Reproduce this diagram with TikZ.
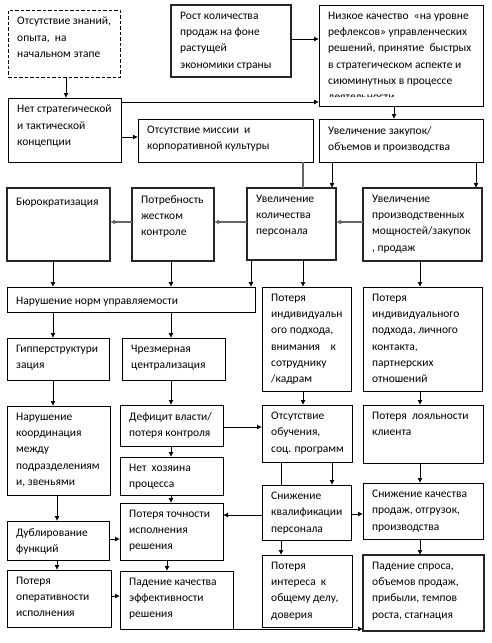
\documentclass[tikz,border=0pt]{standalone}
\usepackage{fontspec}
\setmainfont{Carlito}
\usetikzlibrary{arrows.meta}
\newcommand\mybox[7][]{%
  \node[boxs,#1,minimum width={#5-#3},minimum height={#6-#4}] (#2) at (#3,#4) {};
  \node[txt] (#2-t) at ({#3+9},{#4+7}) {#7};
}
\begin{document}
\begin{tikzpicture}[x=1pt,y=-1pt,
  boxs/.style={draw=black,line width=0.9pt,anchor=north west,inner sep=0pt,outer sep=0pt},
  thickbox/.style={draw=black!85,line width=2.2pt},
  dashbox/.style={dash pattern=on 3.5pt off 2pt},
  txt/.style={anchor=north west,align=left,inner sep=0pt,font=\fontsize{11.5}{16.2}\selectfont,
    execute at begin node={\rule{0pt}{10pt}}},
  arr/.style={line width=0.9pt,-{Latex[length=5pt,width=5pt]}},
  garr/.style={draw=black!60,line width=1.3pt,-{Latex[length=5pt,width=5pt]}},
  gline/.style={draw=black!60,line width=1.3pt},
  pline/.style={line width=0.9pt}]
\useasboundingbox[fill=white] (0,0) rectangle (491,643);

\mybox[dashbox]{dash}{8}{10}{120}{77}{Отсутствие знаний,\\опыта,~ на\\начальном этапе}
\mybox[thickbox]{rost}{171}{5}{291}{77}{Рост количества\\продаж на фоне\\растущей\\экономики страны}
\node[boxs,minimum width=164,minimum height=101] (nizk) at (319,5) {};
\begin{scope}
\clip (319,5) rectangle (483,96.5);
\node[txt] (nizk-t) at (328,12) {Низкое качество~ «на уровне\\рефлексов» управленческих\\решений, принятие~ быстрых\\в стратегическом аспекте и\\сиюминутных в процессе\\деятельности};
\end{scope}
\mybox{net}{8}{98}{121}{162}{Нет стратегической\\и тактической\\концепции}
\mybox{miss}{138}{119}{313}{162}{Отсутствие миссии~ и\\корпоративной культуры}
\mybox{zak}{319}{119}{483}{162}{Увеличение закупок/\\объемов и производства}
\mybox[thickbox]{bur}{7}{188}{110}{261}{Бюрократизация}
\mybox[thickbox]{potr}{132}{188}{214}{261}{Потребность\\жестком\\контроле}
\mybox[thickbox]{pers}{247}{188}{336}{260}{Увеличение\\количества\\персонала}
\mybox[thickbox]{proizv}{363}{188}{482}{261}{Увеличение\\производственных\\мощностей/закупок\\, продаж}
\mybox{norm}{7}{287}{255}{312}{Нарушение норм управляемости}
\mybox{pind}{262}{287}{351}{391}{Потеря\\индивидуальн\\ого подхода,\\внимания~~~ к\\сотруднику\\/кадрам}
\mybox{pindb}{363}{287}{482}{391}{Потеря\\индивидуального\\подхода, личного\\контакта,\\партнерских\\отношений}
\mybox{giper}{7}{338}{109}{380}{Гипперструктури\\зация}
\mybox{chrez}{122}{338}{225}{380}{Чрезмерная\\централизация}
\mybox{koord}{7}{406}{110}{495}{Нарушение\\координация\\между\\подразделениям\\и, звеньями}
\mybox{defic}{120}{405}{223}{446}{Дефицит власти/\\потеря контроля}
\mybox{hoz}{120}{457}{223}{495}{Нет~ хозяина\\процесса}
\mybox{obuch}{262}{405}{352}{462}{Отсутствие\\обучения,\\соц. программ}
\mybox{loyal}{363}{405}{483}{463}{Потеря~ лояльности\\клиента}
\mybox{kval}{262}{485}{351}{540}{Снижение\\квалификации\\персонала}
\mybox{kachp}{363}{483}{483}{539}{Снижение качества\\продаж, отгрузок,\\производства}
\mybox{toch}{120}{503}{223}{560}{Потеря точности\\исполнения\\решения}
\mybox{dubl}{7}{521}{109}{560}{Дублирование\\функций}
\mybox{oper}{7}{570}{111}{627}{Потеря\\оперативности\\исполнения}
\mybox{padk}{120}{571}{233}{629}{Падение качества\\эффективности\\решения}
\mybox{inter}{262}{555}{352}{627}{Потеря\\интереса~ к\\общему делу,\\доверия}
\mybox[thickbox]{spros}{363}{555}{484}{631}{Падение спроса,\\объемов продаж,\\прибыли, темпов\\роста, стагнация}

% connectors
\draw[arr] (dash.south -| 66,0) -- (net.north -| 66,0);
\draw[arr] (rost.east |- 0,39) -- (nizk.west |- 0,39);
\draw[arr] (net.east |- 0,102) -- (nizk.west |- 0,102);
\draw[arr] (net.east |- 0,137) -- (miss.west |- 0,137);
\draw[arr] (nizk.south -| 394,0) -- (zak.north -| 394,0);
\draw[gline] (miss.south -| 303,0) -- (pers.north -| 303,0);
\draw[arr] (zak.south -| 332,0) -- (pers.north -| 332,0);
\draw[arr] (zak.south -| 476,0) -- (proizv.north -| 476,0);
\draw[garr] (proizv.west |- 0,222) -- (pers.east |- 0,222);
\draw[garr] (pers.west |- 0,222) -- (potr.east |- 0,222);
\draw[garr] (potr.west |- 0,222) -- (bur.east |- 0,222);
\draw[arr] (bur.south -| 53,0) -- (norm.north -| 53,0);
\draw[arr] (potr.south -| 171,0) -- (norm.north -| 171,0);
\draw[arr] (pers.south -| 251,0) -- (norm.north -| 251,0);
\draw[arr] (pers.south -| 303,0) -- (pind.north -| 303,0);
\draw[arr] (proizv.south -| 420,0) -- (pindb.north -| 420,0);
\draw[arr] (norm.south -| 53,0) -- (giper.north -| 53,0);
\draw[arr] (norm.south -| 171,0) -- (chrez.north -| 171,0);
\draw[arr] (giper.south -| 53,0) -- (koord.north -| 53,0);
\draw[arr] (chrez.south -| 171,0) -- (defic.north -| 171,0);
\draw[arr] (defic.south -| 171,0) -- (hoz.north -| 171,0);
\draw[arr] (defic.east |- 0,427) -- (obuch.west |- 0,427);
\draw[arr] (pind.south -| 303,0) -- (obuch.north -| 303,0);
\draw[arr] (pindb.south -| 420,0) -- (loyal.north -| 420,0);
\draw[pline] (obuch.south -| 281,0) -- (kval.north -| 281,0);
\draw[arr] (obuch.south -| 332,0) -- (kval.north -| 332,0);
\draw[arr] (loyal.south -| 420,0) -- (kachp.north -| 420,0);
\draw[arr] (kval.east |- 0,514) -- (kachp.west |- 0,514);
\draw[arr] (kval.west |- 0,515) -- (toch.east |- 0,515);
\draw[arr] (hoz.south -| 171,0) -- (toch.north -| 171,0);
\draw[arr] (koord.south -| 57,0) -- (dubl.north -| 57,0);
\draw[arr] (dubl.east |- 0,539) -- (toch.west |- 0,539);
\draw[arr] (dubl.south -| 57,0) -- (oper.north -| 57,0);
\draw[arr] (toch.south -| 167,0) -- (padk.north -| 167,0);
\draw[arr] (oper.east |- 0,596) -- (padk.west |- 0,596);
\draw[arr] (padk.south east) -- (padk.south east -| spros.west);
\draw[arr] (kval.south -| 281,0) -- (inter.north -| 281,0);
\draw[arr] (kachp.south -| 420,0) -- (spros.north -| 420,0);
\end{tikzpicture}
\end{document}
